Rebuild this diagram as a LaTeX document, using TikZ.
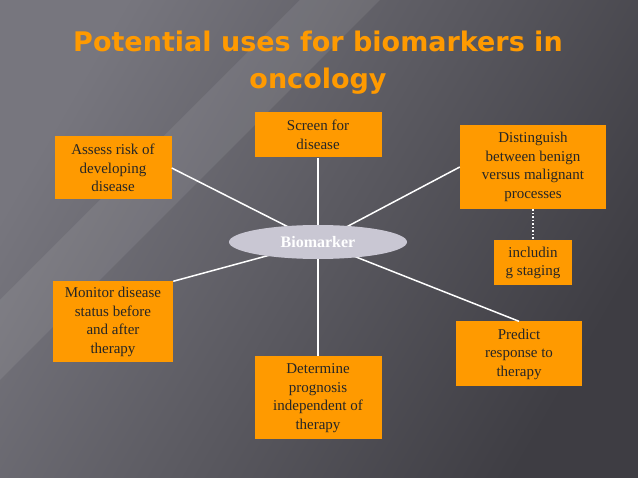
\documentclass[tikz,border=0pt]{standalone}
\usepackage{fontspec}
\setmainfont{Liberation Serif}
\newfontfamily\titlefont{DejaVu Sans}
\usetikzlibrary{shapes.geometric}
\definecolor{boxor}{HTML}{FF9A00}
\definecolor{bgdark}{HTML}{3E3D43}
\definecolor{bglight}{HTML}{77767E}
\definecolor{ellc}{HTML}{C9C7D3}
\begin{document}
\begin{tikzpicture}[x=1pt,y=-1pt,
  ob/.style={fill=boxor,draw=none,align=center,inner sep=3pt,font=\fontsize{15}{18.5}\selectfont,text=black!85},
  link/.style={draw=white,line width=1.5pt}]
\useasboundingbox (0,0) rectangle (638,478);
\shade[left color=bglight,right color=bgdark,shading angle=60] (0,0) rectangle (638,478);
\fill[white,opacity=0.08] (0,300) -- (300,0) -- (380,0) -- (0,380) -- cycle;
\node[font=\titlefont\bfseries\fontsize{27}{37}\selectfont,text=boxor,align=center,draw=none] (title) at (318,63) {Potential uses for biomarkers in\\oncology};
\node[ob,minimum width=127,minimum height=45] (screen) at (318,135) {Screen for\\disease};
\node[ob,minimum width=146,minimum height=84] (dist) at (533,167) {Distinguish\\between benign\\versus malignant\\processes};
\node[ob,minimum width=78,minimum height=45] (incl) at (533,263) {includin\\g staging};
\node[ob,minimum width=117,minimum height=63] (assess) at (113,168) {Assess risk of\\developing\\disease};
\node[ob,minimum width=120,minimum height=81] (monitor) at (113,322) {Monitor disease\\status before\\and after\\therapy};
\node[ob,minimum width=126,minimum height=65] (predict) at (519,354) {Predict\\response to\\therapy};
\node[ob,minimum width=127,minimum height=83] (determ) at (318,398) {Determine\\prognosis\\independent of\\therapy};
\coordinate (c) at (318,242);
\draw[link] (c) -- (screen.south);
\draw[link] (c) -- (dist.west);
\draw[link] (c) -- (assess.east);
\draw[link] (c) -- (monitor.north east);
\draw[link] (c) -- (predict.north);
\draw[link] (c) -- (determ.north);
\draw[white,line width=1.5pt,dotted] (dist.south) -- (incl.north);
\node[ellipse,fill=ellc,minimum width=178,minimum height=34,inner sep=0pt,text=white,font=\bfseries\fontsize{16}{18}\selectfont] (bio) at (c) {Biomarker};
\end{tikzpicture}
\end{document}
